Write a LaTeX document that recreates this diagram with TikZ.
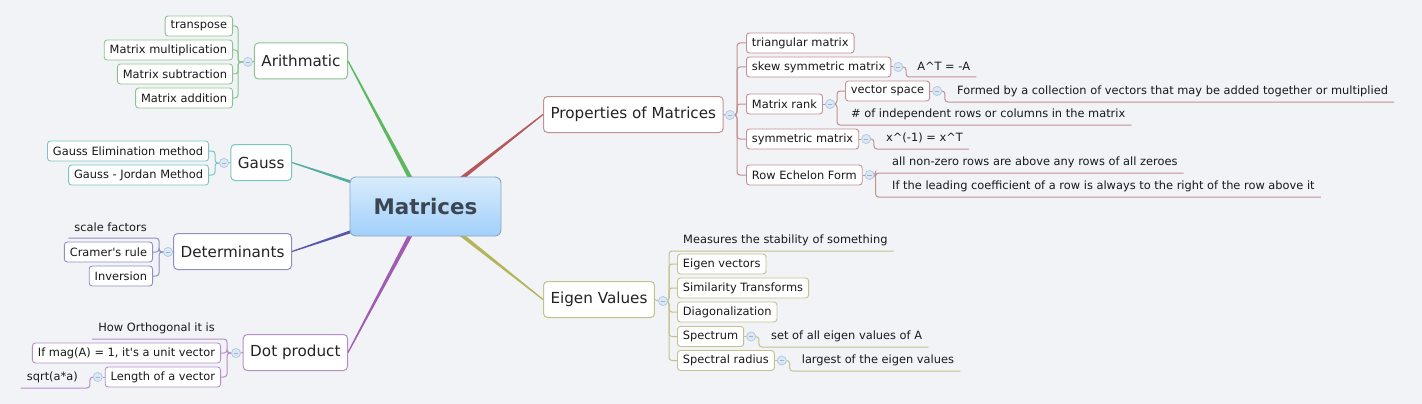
\documentclass[tikz,border=0pt]{standalone}
\usepackage{fontspec}
\setmainfont{DejaVu Sans}
\usetikzlibrary{calc}
\definecolor{bg}{RGB}{241,243,247}
\definecolor{txt}{RGB}{25,25,25}
\definecolor{txtbig}{RGB}{35,35,35}
\definecolor{gAb}{HTML}{8DC48D}\definecolor{gAm}{HTML}{5CB85C}
\definecolor{gGb}{HTML}{7CC6C0}\definecolor{gGm}{HTML}{52AD9F}
\definecolor{gDb}{HTML}{8E8EC4}\definecolor{gDm}{HTML}{5757A8}
\definecolor{gPb}{HTML}{B78FC7}\definecolor{gPm}{HTML}{A15BB2}
\definecolor{gRb}{HTML}{C39191}\definecolor{gRm}{HTML}{B5585A}
\definecolor{gEb}{HTML}{C2C28C}\definecolor{gEm}{HTML}{B4B45A}
\definecolor{togf}{HTML}{DCE7F4}\definecolor{togb}{HTML}{B3C9E4}\definecolor{togm}{HTML}{9DB6D8}
\definecolor{ctop}{HTML}{D8ECFC}\definecolor{cbot}{HTML}{A2D0FA}\definecolor{cbord}{HTML}{90A6BC}\definecolor{ctext}{HTML}{3A4652}
\newcommand\smallf{\fontsize{11.4}{13}\selectfont}
\newcommand\bigf{\fontsize{15.2}{18}\selectfont}
\newcommand\centf{\fontsize{21.4}{25}\selectfont\bfseries}
\newcommand\taperline[3]{\fill[#3] ($(#1)!0.6pt!90:(#2)$) -- ($(#1)!0.6pt!-90:(#2)$) -- ($(#2)!2.5pt!90:(#1)$) -- ($(#2)!2.5pt!-90:(#1)$) -- cycle;}
\tikzset{
  bigbox/.style={draw=#1, line width=1pt, rounded corners=4, fill=white, font=\bigf, text=txtbig, minimum height=36, inner xsep=7, inner ysep=0},
  sbox/.style={draw=#1, line width=0.9pt, rounded corners=3, fill=white, font=\smallf, text=txt, minimum height=20, inner xsep=5.5, inner ysep=0},
  ptext/.style={font=\smallf, text=txt, minimum height=21, inner xsep=6, inner ysep=0},
  conn/.style={draw=#1, line width=1pt, rounded corners=3},
  tog/.style={circle, draw=togb, fill=togf, minimum size=9, inner sep=0, line width=0.6pt,
    path picture={\draw[togm, line width=0.8pt] ([xshift=-2.2pt]path picture bounding box.center) -- ([xshift=2.2pt]path picture bounding box.center);}}
}
\begin{document}
\begin{tikzpicture}[x=1pt,y=-1pt]
\fill[bg] (0,0) rectangle (1422,404);
\useasboundingbox (0,0) rectangle (1422,404);

% ---------- main topics ----------
\node[bigbox=gAb, anchor=east] (arith) at (348,61) {Arithmatic};
\node[bigbox=gGb, anchor=east] (gauss) at (292,162.5) {Gauss};
\node[bigbox=gDb, anchor=east] (det) at (292,251.5) {Determinants};
\node[bigbox=gPb, anchor=east] (dot) at (348,352.5) {Dot product};
\node[bigbox=gRb, anchor=west] (props) at (543,114.5) {Properties of Matrices};
\node[bigbox=gEb, anchor=west] (eig) at (543,299.5) {Eigen Values};

% main tapered branches
\coordinate (mc) at (425.5,206.5);
\taperline{arith.east}{mc}{gAm}
\taperline{gauss.east}{mc}{gGm}
\taperline{det.east}{mc}{gDm}
\taperline{dot.east}{mc}{gPm}
\taperline{props.west}{mc}{gRm}
\taperline{eig.west}{mc}{gEm}

\node[draw=cbord, line width=0.9pt, rounded corners=6, top color=ctop, bottom color=cbot,
      minimum width=151, minimum height=59, font=\centf, text=ctext] (m) at (mc) {Matrices};

% Arithmatic children
\node[sbox=gAb, anchor=east] (a1) at (233,26) {transpose};
\node[sbox=gAb, anchor=east] (a2) at (233,50) {Matrix multiplication};
\node[sbox=gAb, anchor=east] (a3) at (233,74) {Matrix subtraction};
\node[sbox=gAb, anchor=east] (a4) at (233,98) {Matrix addition};
% Gauss children
\node[sbox=gGb, anchor=east] (g1) at (209,151) {Gauss Elimination method};
\node[sbox=gGb, anchor=east] (g2) at (209,175) {Gauss - Jordan Method};
% Determinants children
\node[ptext, anchor=south east] (d1) at (153,238) {scale factors};
\node[sbox=gDb, anchor=east] (d2) at (153,252) {Cramer\textquotesingle s rule};
\node[sbox=gDb, anchor=east] (d3) at (153,276) {Inversion};
% Dot product children
\node[ptext, anchor=south east] (p1) at (221,339) {How Orthogonal it is};
\node[sbox=gPb, anchor=east] (p2) at (221,353) {If mag(A) = 1, it\textquotesingle s a unit vector};
\node[sbox=gPb, anchor=east] (p3) at (221,377) {Length of a vector};
\node[ptext, anchor=south east] (p31) at (84,388) {sqrt(a*a)};

% Properties children
\node[sbox=gRb, anchor=west] (r1) at (746,43) {triangular matrix};
\node[sbox=gRb, anchor=west] (r2) at (746,67) {skew symmetric matrix};
\node[sbox=gRb, anchor=west] (r3) at (746,104) {Matrix rank};
\node[sbox=gRb, anchor=west] (r31) at (845,91) {vector space};
\node[ptext, anchor=south west] (r32) at (845,125) {\# of independent rows or columns in the matrix};
\node[sbox=gRb, anchor=west] (r4) at (746,139) {symmetric matrix};
\node[sbox=gRb, anchor=west] (r5) at (746,175) {Row Echelon Form};
\node[ptext, anchor=south west] (r51) at (886,173) {all non-zero rows are above any rows of all zeroes};
\node[ptext, anchor=south west] (r52) at (886,197) {If the leading coefficient of a row is always to the right of the row above it};

% Eigen children
\node[ptext, anchor=south west] (e1) at (677,251) {Measures the stability of something};
\node[sbox=gEb, anchor=west] (e2) at (677,264) {Eigen vectors};
\node[sbox=gEb, anchor=west] (e3) at (677,288) {Similarity Transforms};
\node[sbox=gEb, anchor=west] (e4) at (677,312) {Diagonalization};
\node[sbox=gEb, anchor=west] (e5) at (677,336.5) {Spectrum};
\node[sbox=gEb, anchor=west] (e6) at (677,360.5) {Spectral radius};

% toggles
\node[tog] (ta) at (248,62) {};
\node[tog] (tg) at (224,163) {};
\node[tog] (td) at (168,252) {};
\node[tog] (tp) at (236,353) {};
\node[tog] (tp3) at ($(p3.west)+(-7,0)$) {};
\node[tog] (tr) at (730,115) {};
\node[tog] (tr2) at ($(r2.east)+(7,0)$) {};
\node[tog] (tr3) at (830,104) {};
\node[tog] (tr31) at ($(r31.east)+(7,0)$) {};
\node[tog] (tr4) at ($(r4.east)+(7,0)$) {};
\node[tog] (tr5) at ($(r5.east)+(7,0)$) {};
\node[tog] (te) at (663,301) {};
\node[tog] (te5) at ($(e5.east)+(7,0)$) {};
\node[tog] (te6) at ($(e6.east)+(7,0)$) {};

% leaf texts attached to toggles
\node[ptext, anchor=south west] (r2a) at ($(tr2.east)+(8,10)$) {A\textasciicircum T = -A};
\node[ptext, anchor=south west] (r31a) at ($(tr31.east)+(9,11)$) {Formed by a collection of vectors that may be added together or multiplied};
\node[ptext, anchor=south west] (r4a) at ($(tr4.east)+(9,10)$) {x\textasciicircum(-1) = x\textasciicircum T};
\node[ptext, anchor=south west] (e5a) at ($(te5.east)+(9,10.5)$) {set of all eigen values of A};
\node[ptext, anchor=south west] (e6a) at ($(te6.east)+(9,10.5)$) {largest of the eigen values};

% ---------- connectors ----------
% Arithmatic
\coordinate (bA) at (238,62);
\draw[conn=gAb] (arith.west) -- (ta.east);
\foreach \c in {a1,a2,a3,a4} \draw[conn=gAb] (ta.west) -- (bA) |- (\c.east);
% Gauss
\coordinate (bG) at (215,163);
\draw[conn=gGb] (gauss.west) -- (tg.east);
\foreach \c in {g1,g2} \draw[conn=gGb] (tg.west) -- (bG) |- (\c.east);
% Determinants
\coordinate (bD) at (159,252);
\draw[conn=gDb] (det.west) -- (td.east);
\draw[conn=gDb] (td.west) -- (bD) |- (d1.south east) -- (d1.south west);
\foreach \c in {d2,d3} \draw[conn=gDb] (td.west) -- (bD) |- (\c.east);
% Dot product
\coordinate (bP) at (227,353);
\draw[conn=gPb] (dot.west) -- (tp.east);
\draw[conn=gPb] (tp.west) -- (bP) |- (p1.south east) -- (p1.south west);
\foreach \c in {p2,p3} \draw[conn=gPb] (tp.west) -- (bP) |- (\c.east);
\draw[conn=gPb] (p3.west) -- (tp3.east);
\draw[conn=gPb] (tp3.west) -- ++(-3,0) |- (p31.south east) -- (p31.south west);

% Properties
\coordinate (bR) at (737,115);
\draw[conn=gRb] (props.east) -- (tr.west);
\foreach \c in {r1,r2,r3,r4,r5} \draw[conn=gRb] (tr.east) -- (bR) |- (\c.west);
\draw[conn=gRb] (r2.east) -- (tr2.west);
\draw[conn=gRb] (tr2.east) -- ++(3,0) |- (r2a.south west) -- (r2a.south east);
\coordinate (bR3) at (837,104);
\draw[conn=gRb] (r3.east) -- (tr3.west);
\draw[conn=gRb] (tr3.east) -- (bR3) |- (r31.west);
\draw[conn=gRb] (tr3.east) -- (bR3) |- (r32.south west) -- (r32.south east);
\draw[conn=gRb] (r31.east) -- (tr31.west);
\draw[conn=gRb] (tr31.east) -- ++(3,0) |- (r31a.south west) -- (r31a.south east);
\draw[conn=gRb] (r4.east) -- (tr4.west);
\draw[conn=gRb] (tr4.east) -- ++(3,0) |- (r4a.south west) -- (r4a.south east);
\coordinate (bR5) at ($(tr5)+(6,0)$);
\draw[conn=gRb] (r5.east) -- (tr5.west);
\foreach \c in {r51,r52} \draw[conn=gRb] (tr5.east) -- (bR5) |- (\c.south west) -- (\c.south east);

% Eigen
\coordinate (bE) at (669,301);
\draw[conn=gEb] (eig.east) -- (te.west);
\draw[conn=gEb] (te.east) -- (bE) |- (e1.south west) -- (e1.south east);
\foreach \c in {e2,e3,e4,e5,e6} \draw[conn=gEb] (te.east) -- (bE) |- (\c.west);
\draw[conn=gEb] (e5.east) -- (te5.west);
\draw[conn=gEb] (te5.east) -- ++(3,0) |- (e5a.south west) -- (e5a.south east);
\draw[conn=gEb] (e6.east) -- (te6.west);
\draw[conn=gEb] (te6.east) -- ++(3,0) |- (e6a.south west) -- (e6a.south east);

% toggles on top of connectors
\foreach \t in {ta,tg,td,tp,tp3,tr,tr2,tr3,tr31,tr4,tr5,te,te5,te6}
  \node[tog] at (\t) {};
\end{tikzpicture}
\end{document}
